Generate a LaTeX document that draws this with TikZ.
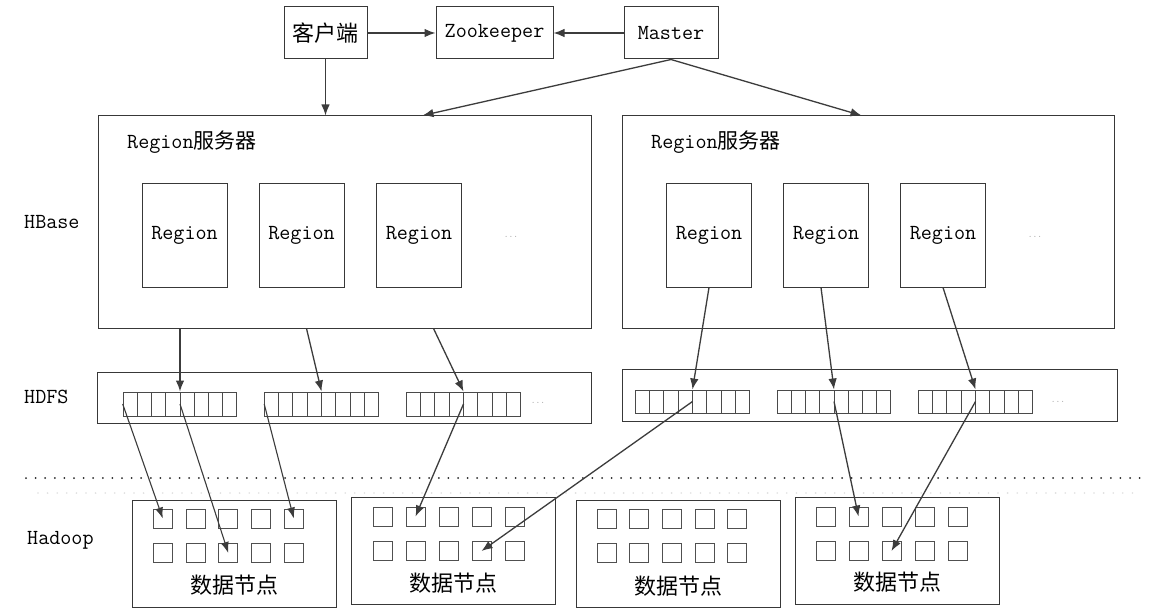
\documentclass[tikz,border=0pt]{standalone}
\usepackage{fontspec}
\newfontfamily\cjk{Noto Sans CJK SC}
\usetikzlibrary{arrows.meta,calc}
\definecolor{boxc}{HTML}{383838}
\definecolor{arrc}{HTML}{3C3C3C}
\definecolor{cellc}{HTML}{4A4A4A}
\definecolor{sqc}{HTML}{505050}
\definecolor{dotc}{HTML}{A8A8A8}
\begin{document}
\begin{tikzpicture}[x=1pt,y=-1pt,
  bx/.style={draw=boxc, line width=1pt, inner sep=0pt, fill=white},
  latin/.style={font=\ttfamily\fontsize{21.5}{22}\selectfont},
  han/.style={font=\cjk\fontsize{22}{24}\selectfont},
  regionbox/.style={bx, minimum width=85pt, minimum height=103pt, latin},
  cellgrp/.style={draw=cellc, line width=1pt, inner sep=0pt, minimum width=113.6pt, minimum height=#1},
  sq/.style={draw=sqc, line width=1pt, inner sep=0pt, minimum size=19pt},
  dnbox/.style={bx, minimum width=204pt, minimum height=107pt},
  arr/.style={draw=arrc, line width=1.3pt, -{Latex[length=11pt,width=8.5pt]}},
  thin arr/.style={draw=arrc, line width=1.1pt, -{Latex[length=11pt,width=8pt]}},
  lbl/.style={inner sep=0pt, anchor=west},
  more/.style={inner sep=0pt, text=dotc, font=\ttfamily\fontsize{9}{9}\selectfont}
]
\useasboundingbox (0,0) rectangle (1150,612);
\fill[white] (0,0) rectangle (1150,612);

% top row
\node[bx, minimum width=83pt, minimum height=52pt, han] (client) at (325.5,33) {客户端};
\node[bx, minimum width=117pt, minimum height=52pt, latin] (zk) at (494.5,33) {Zookeeper};
\node[bx, minimum width=94pt, minimum height=52pt, latin] (master) at (671,33) {Master};

% region servers
\node[bx, minimum width=493pt, minimum height=212pt] (ls) at (344.5,222) {};
\node[bx, minimum width=492pt, minimum height=212pt] (rs) at (868,222) {};
\node[lbl] (lsl) at (127,142) {\ttfamily\fontsize{21.5}{22}\selectfont Region\cjk\fontsize{21}{22}\selectfont 服务器};
\node[lbl] (rsl) at (651,142) {\ttfamily\fontsize{21.5}{22}\selectfont Region\cjk\fontsize{21}{22}\selectfont 服务器};

\node[regionbox] (lr1) at (184.5,235.5) {Region};
\node[regionbox] (lr2) at (301.5,235.5) {Region};
\node[regionbox] (lr3) at (419,235.5) {Region};
\node[more] (lrm) at (511,237) {...};
\node[regionbox] (rr1) at (709,235.5) {Region};
\node[regionbox] (rr2) at (826,235.5) {Region};
\node[regionbox] (rr3) at (943,235.5) {Region};
\node[more] (rrm) at (1035,237) {...};

% HDFS
\node[bx, minimum width=494pt, minimum height=51pt] (lh) at (344,397.5) {};
\node[bx, minimum width=495pt, minimum height=52pt] (rh) at (869.5,395) {};
\node[cellgrp=24pt] (hl1) at (180,404) {};
\node[cellgrp=24pt] (hl2) at (321.5,404) {};
\node[cellgrp=24pt] (hl3) at (463.5,404) {};
\node[cellgrp=23pt] (hr1) at (692.5,401.5) {};
\node[cellgrp=23pt] (hr2) at (834,401.5) {};
\node[cellgrp=23pt] (hr3) at (975.5,401.5) {};
\foreach \g in {hl1,hl2,hl3,hr1,hr2,hr3}{
  \foreach \i in {1,...,7}{
    \draw[cellc, line width=1pt] ($(\g.south west)!\i/8!(\g.south east)$) -- ($(\g.north west)!\i/8!(\g.north east)$);
  }
}
\node[more] (lhm) at (538,403) {...};
\node[more] (rhm) at (1058,402) {...};

% side labels
\node[lbl, latin] (hbase) at (24,222) {HBase};
\node[lbl, latin] (hdfs) at (24,397) {HDFS};
\node[lbl, latin] (hadoop) at (27,540) {Hadoop};

% separator
\draw[black!85, line width=2pt, line cap=round, dash pattern=on 0pt off 9.6pt] (26,478) -- (1140,478);
\draw[black!12, line width=1.8pt, line cap=round, dash pattern=on 0pt off 9.6pt] (38,493) -- (1140,493);

% data nodes
\node[dnbox] (dn1) at (234,553.5) {};
\node[dnbox] (dn2) at (453,551) {};
\node[dnbox] (dn3) at (678,553.5) {};
\node[dnbox] (dn4) at (897,551) {};
\node[han, inner sep=0pt] (dt1) at (234,585) {数据节点};
\node[han, inner sep=0pt] (dt2) at (453,583) {数据节点};
\node[han, inner sep=0pt] (dt3) at (678,586) {数据节点};
\node[han, inner sep=0pt] (dt4) at (897,582) {数据节点};
\foreach \b/\sx/\sy/\p in {1/162.8/518.5/32.75, 2/382.5/516.5/33, 3/606.5/518.5/32.7, 4/825.5/516.5/33}{
  \foreach \r in {0,1}{
    \foreach \c in {0,...,4}{
      \node[sq] (b\b-\r-\c) at ({\sx+\p*\c},{\sy+34.5*\r}) {};
    }
  }
}

% connectors top
\coordinate (mtl) at ($(ls.north west)+(325,0)$);
\coordinate (mtr) at ($(rs.north west)+(240,0)$);
\draw[arr] (client) -- (zk);
\draw[arr] (master) -- (zk);
\draw[arr] (client.south) -- (client.south |- ls.north);
\draw[arr] (master.south) -- (mtl);
\draw[arr] (master.south) -- (mtr);

% servers to HDFS
\coordinate (ls2) at ($(ls.south west)+(209,0)$);
\coordinate (ls3) at ($(ls.south west)+(336,0)$);
\draw[arr] (hl1.north |- ls.south) -- (hl1.north);
\draw[arr] (ls2) -- (hl2.north);
\draw[arr] (ls3) -- (hl3.north);
\draw[arr] (rr1.south) -- (hr1.north);
\draw[arr] ([xshift=-5pt]rr2.south) -- (hr2.north);
\draw[arr] (rr3.south) -- (hr3.north);

% HDFS to data nodes
\draw[thin arr] (hl1.west) -- (b1-0-0.center);
\draw[thin arr] (hl1.center) -- (b1-1-2.center);
\draw[thin arr] (hl2.west) -- (b1-0-4.center);
\draw[arr] (hl3.center) -- (b2-0-1.center);
\draw[arr] (hr1.center) -- (b2-1-3.center);
\draw[arr] (hr2.center) -- (b4-0-1.center);
\draw[arr] (hr3.center) -- (b4-1-2.center);
\end{tikzpicture}
\end{document}
